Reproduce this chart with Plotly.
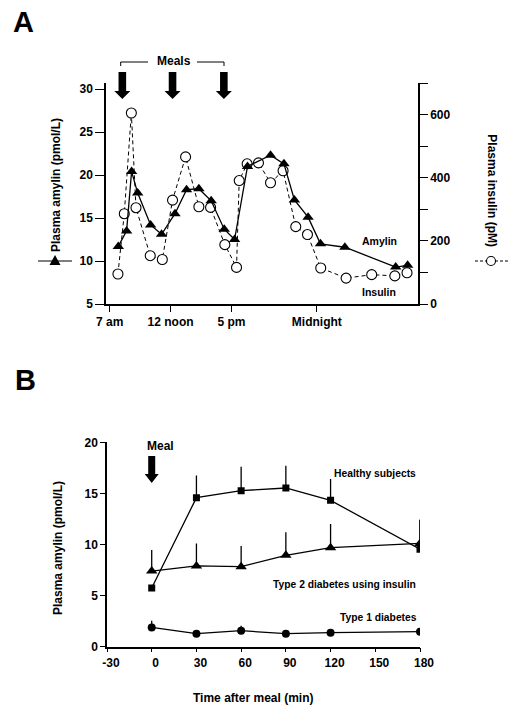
import plotly.graph_objects as go

# Panel A: 24 h profile, x = hours after 7 am
amylin_hours = [0.71, 1.39, 1.80, 2.30, 3.36, 4.26, 5.36, 6.31, 7.32, 8.33, 9.40,
                10.25, 11.31, 13.2, 14.3, 15.16, 16.28, 17.3, 19.3, 23.47, 24.45]
amylin_pmol = [11.7, 13.5, 20.4, 17.9, 14.2, 13.1, 15.5, 18.3, 18.4, 17.0, 13.7,
               12.5, 21.0, 22.3, 21.3, 17.1, 15.1, 12.0, 11.6, 9.3, 9.5]
insulin_hours = [0.68, 1.20, 1.78, 2.16, 3.33, 4.32, 5.16, 6.23, 7.32, 8.28, 9.45, 10.41,
                 10.63, 11.28, 12.21, 13.2, 14.23, 15.27, 16.23, 17.32, 19.4, 21.5, 23.4, 24.4]
insulin_pm = [95, 286, 605, 305, 153, 141, 329, 466, 308, 306, 188, 116,
              391, 444, 447, 384, 422, 245, 220, 114, 82, 93, 89, 99]
meal_hours = [1.04, 5.16, 9.37]
clock_ticks = [0, 5, 10, 17]
clock_labels = ["7 am", "12 noon", "5 pm", "Midnight"]

# Panel B: after a meal
minutes = [0, 30, 60, 90, 120, 180]
healthy = [5.74, 14.58, 15.27, 15.53, 14.32, 9.53]
healthy_err = [0, 2.16, 2.33, 2.17, 2.08, 2.9]
type2 = [7.4, 7.9, 7.83, 8.94, 9.69, 10.11]
type2_err = [2.06, 2.2, 2.02, 2.26, 2.31, 2.3]
type1 = [1.89, 1.27, 1.57, 1.27, 1.37, 1.47]
type1_err = [0.65, 0.2, 0.48, 0.15, 0.2, 0.1]
minute_ticks = [-30, 0, 30, 60, 90, 120, 150, 180]
minute_labels = ["-30", "0", "30", "60", "90", "120", "150", "180"]

FONT = "Liberation Sans"
W, H = 520, 720


def px(x):
    return x / W


def py_(y):
    return 1 - y / H


def bold(size):
    return dict(family=FONT, size=size, color="black", weight="bold")


def up_err(err):
    return dict(type="data", symmetric=False, array=err, arrayminus=[0] * len(err),
                width=0, thickness=1.3, color="black")


fig = go.Figure()

# insulin on primary (right side) axis, amylin on overlay so it sits on top
fig.add_trace(go.Scatter(x=insulin_hours, y=insulin_pm, xaxis="x", yaxis="y",
                         mode="lines+markers",
                         line=dict(color="black", width=1, dash="4px,3px"),
                         marker=dict(symbol="circle", size=10, color="white",
                                     line=dict(color="black", width=1.1))))
fig.add_trace(go.Scatter(x=amylin_hours, y=amylin_pmol, xaxis="x", yaxis="y2",
                         mode="lines+markers", line=dict(color="black", width=1.3),
                         marker=dict(symbol="triangle-up", size=10, color="black")))

fig.add_trace(go.Scatter(x=minutes, y=healthy, xaxis="x2", yaxis="y3",
                         mode="lines+markers", line=dict(color="black", width=1.3),
                         marker=dict(symbol="square", size=7, color="black"),
                         error_y=up_err(healthy_err)))
fig.add_trace(go.Scatter(x=minutes, y=type2, xaxis="x2", yaxis="y3",
                         mode="lines+markers", line=dict(color="black", width=1.3),
                         marker=dict(symbol="triangle-up", size=10, color="black"),
                         error_y=up_err(type2_err)))
fig.add_trace(go.Scatter(x=minutes, y=type1, xaxis="x2", yaxis="y3",
                         mode="lines+markers", line=dict(color="black", width=1.3),
                         marker=dict(symbol="circle", size=8, color="black"),
                         error_y=up_err(type1_err)))

axis_common = dict(showgrid=False, zeroline=False, showline=True, linecolor="black",
                   linewidth=1.5, ticks="outside", tickcolor="black", tickwidth=1.3,
                   tickfont=bold(12), automargin=False)

xa_dom = [px(106), px(418)]
ya_dom = [py_(304), py_(83)]
xb_dom = [px(107), px(420)]
yb_dom = [py_(646.7), py_(442.3)]

fig.update_layout(
    width=W, height=H, margin=dict(l=0, r=0, t=0, b=0, pad=0, autoexpand=False),
    paper_bgcolor="white", plot_bgcolor="white", showlegend=False,
    xaxis=dict(axis_common, domain=xa_dom, range=[-0.3, 25.3], anchor="y",
               tickvals=clock_ticks, ticktext=clock_labels, ticklen=6),
    yaxis=dict(axis_common, domain=ya_dom, range=[0, 700], side="right", anchor="x",
               tickvals=[0, 100, 200, 300, 400, 500, 600, 700],
               ticktext=["0", "", "200", "", "400", "", "600", ""], ticklen=8),
    yaxis2=dict(axis_common, range=[5, 30.7], overlaying="y", side="left", anchor="x",
                tickvals=[5, 10, 15, 20, 25, 30], ticklen=9),
    xaxis2=dict(axis_common, domain=xb_dom, range=[-30, 180], anchor="y3",
                tickvals=minute_ticks, ticktext=minute_labels, ticklen=4,
                ticklabelshift=4),
    xaxis3=dict(showgrid=False, zeroline=False, showline=False, range=[-30, 180],
                overlaying="x2", anchor="y3", tickvals=minute_ticks[1:], ticks="inside",
                ticklen=4, tickwidth=1.3, tickcolor="black", showticklabels=False,
                automargin=False),
    yaxis3=dict(axis_common, domain=yb_dom, range=[0, 20], anchor="x2",
                tickvals=[0, 5, 10, 15, 20], ticklen=5),
)

ARROW = "M0,0 L-8,8 L-3.8,8 L-3.8,27 L3.8,27 L3.8,8 L8,8 Z"
shapes = []
for h in meal_hours:
    shapes.append(dict(type="path", xref="x", yref="paper", xsizemode="pixel",
                       ysizemode="pixel", xanchor=h, yanchor=py_(99), path=ARROW,
                       fillcolor="black", line=dict(width=0)))
shapes.append(dict(type="path", xref="x2", yref="paper", xsizemode="pixel",
                   ysizemode="pixel", xanchor=0, yanchor=py_(483),
                   path="M0,0 L-7,9 L-3.5,9 L-3.5,27 L3.5,27 L3.5,9 L7,9 Z",
                   fillcolor="black", line=dict(width=0)))

# Meals bracket
bracket = dict(color="black", width=1)
shapes += [
    dict(type="line", xref="paper", yref="paper", x0=px(120.7), x1=px(148),
         y0=py_(62), y1=py_(62), line=bracket),
    dict(type="line", xref="paper", yref="paper", x0=px(197), x1=px(224),
         y0=py_(62), y1=py_(62), line=bracket),
    dict(type="line", xref="paper", yref="paper", x0=px(120.7), x1=px(120.7),
         y0=py_(62), y1=py_(66), line=bracket),
    dict(type="line", xref="paper", yref="paper", x0=px(224), x1=px(224),
         y0=py_(62), y1=py_(66), line=bracket),
]

# axis-title key glyphs
shapes += [
    dict(type="line", xref="paper", yref="paper", x0=px(38), x1=px(72),
         y0=py_(261), y1=py_(261), line=dict(color="black", width=1.2)),
    dict(type="path", xref="paper", yref="paper", xsizemode="pixel", ysizemode="pixel",
         xanchor=px(55), yanchor=py_(261), path="M-5.5,-4 L5.5,-4 L0,6 Z",
         fillcolor="black", line=dict(width=0)),
    dict(type="line", xref="paper", yref="paper", x0=px(475), x1=px(508),
         y0=py_(261), y1=py_(261), line=dict(color="black", width=1, dash="3px,2px")),
    dict(type="circle", xref="paper", yref="paper", xsizemode="pixel", ysizemode="pixel",
         xanchor=px(491), yanchor=py_(261), x0=-4.5, x1=4.5, y0=-4.5, y1=4.5,
         fillcolor="white", line=dict(color="black", width=1.1)),
]
fig.update_layout(shapes=shapes)


def note(text, x, y, size=12, angle=0, xanchor="center"):
    fig.add_annotation(text=text, x=px(x), y=py_(y), xref="paper", yref="paper",
                       showarrow=False, textangle=angle, xanchor=xanchor,
                       yanchor="middle", font=bold(size))


note("A", 23, 22, size=29)
note("B", 25, 380, size=29)
note("Meals", 174, 61, size=12)
note("Plasma amylin (pmol/L)", 56, 185, size=12, angle=-90)
note("Plasma insulin (pM)", 491.7, 191, size=12, angle=90)
note("Amylin", 379, 241, size=10.5)
note("Insulin", 379, 292, size=10.5)

note("Meal", 160.7, 446, size=12)
note("Healthy subjects", 418, 473, size=10.3, xanchor="right")
note("Type 2 diabetes using insulin", 418, 584, size=10.3, xanchor="right")
note("Type 1 diabetes", 419, 617, size=10.3, xanchor="right")
note("Plasma amylin (pmol/L)", 58, 548, size=12, angle=-90)
note("Time after meal (min)", 252.8, 698, size=12)

# the page's default body margin would push the figure 8 px off the corner
fig.write_html("out.html", config={"displayModeBar": False},
               post_script="document.body.style.margin = '0';")
